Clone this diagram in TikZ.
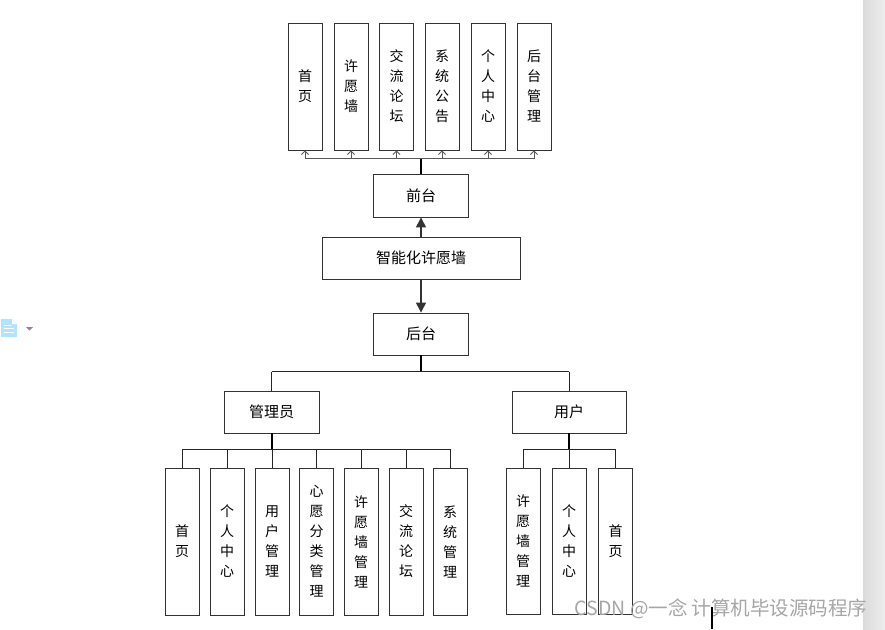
\documentclass[tikz,border=0pt]{standalone}
\usepackage{fontspec}
\newfontfamily\cjk{Noto Sans CJK SC}
\usetikzlibrary{arrows.meta}
\begin{document}
\begin{tikzpicture}[x=1pt,y=-1pt,
  box/.style={draw=black!80, line width=0.9pt, fill=white, inner sep=0pt,
    font=\cjk\fontsize{14}{20}\selectfont, align=center},
  vbox/.style={box, minimum width=34pt},
  hbox/.style={box, minimum height=42pt, font=\cjk\fontsize{15}{20}\selectfont},
  conn/.style={line width=0.8pt, draw=black!85},
  trunk/.style={line width=2pt, draw=black},
  uparr/.style={conn, draw=black!65, -{Straight Barb[length=3.5pt,width=7pt]}},
  bigarr/.style={line width=1.4pt, draw=black!80, -{Triangle[length=10pt,width=10pt]}}
]
\useasboundingbox (0,0) rectangle (885,629);
\fill[white] (0,0) rectangle (885,629);
% right gray strip
\shade[left color=black!14, right color=black!7] (863,0) rectangle (885,629);
% left icon
\fill[blue!35!cyan!30] (1,319) -- (12,319) -- (17,324) -- (17,337) -- (1,337) -- cycle;
\fill[white] (12,319) -- (12,324) -- (17,324) -- cycle;
\draw[white, line width=0.9pt] (4,325) -- (11,325) (4,328.5) -- (14,328.5) (4,332) -- (14,332);
\fill[black!45] (26,327) -- (33,327) -- (29.5,330.5) -- cycle;

% top level boxes
\node[vbox, minimum height=127pt] (t1) at (305,86.5) {首\\页};
\node[vbox, minimum height=127pt] (t2) at (351,86.5) {许\\愿\\墙};
\node[vbox, minimum height=127pt] (t3) at (396.5,86.5) {交\\流\\论\\坛};
\node[vbox, minimum height=127pt] (t4) at (442,86.5) {系\\统\\公\\告};
\node[vbox, minimum height=127pt] (t5) at (488,86.5) {个\\人\\中\\心};
\node[vbox, minimum height=127pt] (t6) at (534,86.5) {后\\台\\管\\理};

\node[hbox, minimum width=95pt, minimum height=43pt] (qt) at (421,195.5) {前台};
\node[hbox, minimum width=198pt] (main) at (421,258) {智能化许愿墙};
\node[hbox, minimum width=95pt] (ht) at (421,334) {后台};
\node[hbox, minimum width=95pt] (gly) at (271.5,412) {管理员};
\node[hbox, minimum width=114pt] (yh) at (569,412) {用户};

% admin children
\node[vbox, minimum height=147pt] (a1) at (182,541.5) {首\\页};
\node[vbox, minimum height=147pt] (a2) at (227,541.5) {个\\人\\中\\心};
\node[vbox, minimum height=147pt] (a3) at (272,541.5) {用\\户\\管\\理};
\node[vbox, minimum height=147pt] (a4) at (316.5,541.5) {心\\愿\\分\\类\\管\\理};
\node[vbox, minimum height=147pt] (a5) at (361,541.5) {许\\愿\\墙\\管\\理};
\node[vbox, minimum height=147pt] (a6) at (406,541.5) {交\\流\\论\\坛};
\node[vbox, minimum height=147pt] (a7) at (450,541.5) {系\\统\\管\\理};

% user children
\node[vbox, minimum height=146pt] (u1) at (523,541) {许\\愿\\墙\\管\\理};
\node[vbox, minimum height=146pt] (u2) at (569,541) {个\\人\\中\\心};
\node[vbox, minimum height=146pt] (u3) at (615.5,541) {首\\页};

% top bus
\coordinate (bus1) at (421,158.5);
\draw[conn, draw=black!65] (t1.south |- bus1) -- (t6.south |- bus1);
\foreach \n in {t1,t2,t3,t4,t5,t6} \draw[uparr] (\n.south |- bus1) -- (\n.south);
\draw[trunk] (qt.north) -- (qt.north |- bus1);

% main arrows
\draw[bigarr] (main.north) -- (qt.south);
\draw[bigarr] (main.south) -- (ht.north);

% backend split
\coordinate (hbus) at (421,371.5);
\draw[line width=1.4pt] (ht.south) -- (ht.south |- hbus);
\draw[conn] (gly.north |- hbus) -- (yh.north |- hbus);
\draw[conn] (gly.north |- hbus) -- (gly.north);
\draw[conn] (yh.north |- hbus) -- (yh.north);

% admin bus
\coordinate (abus) at (272,449);
\draw[conn] (a1.north |- abus) -- (a7.north |- abus);
\foreach \n in {a1,a2,a3,a4,a5,a6,a7} \draw[conn] (\n.north |- abus) -- (\n.north);
\draw[trunk] (gly.south) -- (gly.south |- abus);

% user bus
\coordinate (ubus) at (569,449);
\draw[conn] (u1.north |- ubus) -- (u3.north |- ubus);
\foreach \n in {u1,u2,u3} \draw[conn] (\n.north |- ubus) -- (\n.north);
\draw[trunk] (yh.south) -- (yh.south |- ubus);

% watermark
\node[font=\cjk\fontsize{19.5}{20}\selectfont, text=black!35, inner sep=0pt] (wm) at (721,609) {CSDN @一念 计算机毕设源码程序};
\draw[line width=2pt] (711.5,607) -- (711.5,629);
\end{tikzpicture}
\end{document}
